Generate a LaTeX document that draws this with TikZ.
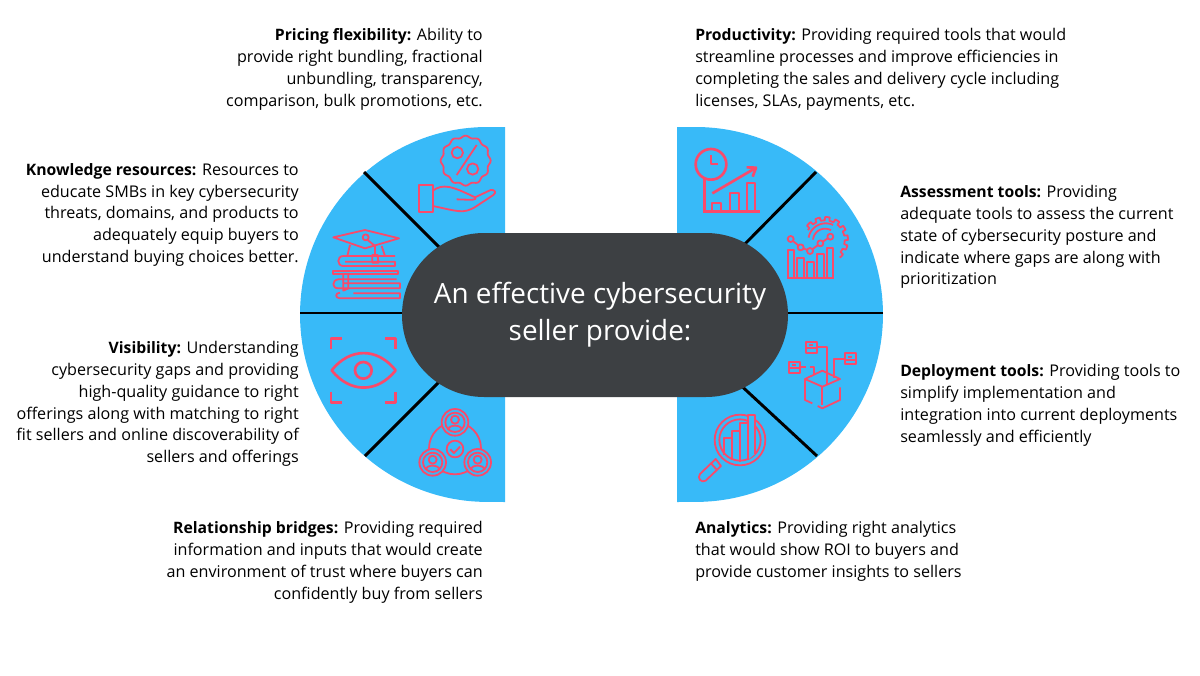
\documentclass[tikz,border=0pt]{standalone}
\usepackage{fontspec}
\setmainfont{Open Sans}
\usepackage{tikz}
\definecolor{discblue}{HTML}{38BAF8}
\definecolor{hubgrey}{HTML}{3D4043}
\definecolor{iconred}{HTML}{F94A6B}
\tikzset{
  disc/.style={fill=discblue,draw=none},
  divider/.style={draw=black,line width=2.2pt},
  hub/.style={fill=hubgrey,rounded corners=61.5pt,minimum width=289.5pt,minimum height=123pt},
  hubtext/.style={text=white,align=center,font=\fontsize{20.9}{27.8}\selectfont},
  leftnote/.style={anchor=north east,align=right,inner sep=0pt,font=\fontsize{12.1}{16.4}\selectfont},
  rightnote/.style={anchor=north west,align=left,inner sep=0pt,font=\fontsize{12.1}{16.4}\selectfont},
  icon/.style={draw=iconred,line width=1.35pt,line join=round},
  iconthick/.style={draw=iconred,line width=2pt,line join=round},
  iconbox/.style={x=.25pt,y=-.25pt},
}
\newcommand{\lead}[1]{{\fontsize{11.8}{16.4}\selectfont\textbf{#1}}}
\begin{document}
\begin{tikzpicture}[x=.75pt,y=-.75pt]
  \useasboundingbox (0,0) rectangle (1200,675);
  \path[disc] (505,127) -- (487.5,127) arc[start angle=90,end angle=270,radius=140.6pt] -- (505,502) -- cycle;
  \path[disc] (677,127) -- (695.5,127) arc[start angle=90,end angle=-90,radius=140.6pt] -- (677,502) -- cycle;

  \coordinate (la1) at (364,172);
  \coordinate (la2) at (445,253);
  \coordinate (lb1) at (300,313);
  \coordinate (lb2) at (410,313);
  \coordinate (lc1) at (365,456);
  \coordinate (lc2) at (445,376);
  \coordinate (ra1) at (816,172);
  \coordinate (ra2) at (738,251);
  \coordinate (rb1) at (883,313);
  \coordinate (rb2) at (775,313);
  \coordinate (rc1) at (817,456);
  \coordinate (rc2) at (735,380);
  \path[divider]
  (la1) edge (la2)
  (lb1) edge (lb2)
  (lc1) edge (lc2)
  (ra1) edge (ra2)
  (rb1) edge (rb2)
  (rc1) edge (rc2)
  ;

  \node[hub] (centre) at (595,315) {};
  \node[hubtext] (centretext) at (600,315) {An effective cybersecurity\\seller provide:};

  \node[leftnote] (pricing) at (483,28) {\lead{Pricing flexibility:} Ability to\\provide right bundling, fractional\\unbundling, transparency,\\comparison, bulk promotions, etc.};
  \node[leftnote] (knowledge) at (299,163) {\lead{Knowledge resources:} Resources to\\educate SMBs in key cybersecurity\\threats, domains, and products to\\adequately equip buyers to\\understand buying choices better.};
  \node[leftnote] (visibility) at (299,341) {\lead{Visibility:} Understanding\\cybersecurity gaps and providing\\high-quality guidance to right\\offerings along with matching to right\\fit sellers and online discoverability of\\sellers and offerings};
  \node[leftnote] (bridges) at (483,521) {\lead{Relationship bridges:} Providing required\\information and inputs that would create\\an environment of trust where buyers can\\confidently buy from sellers};
  \node[rightnote] (productivity) at (695,28) {\lead{Productivity:} Providing required tools that would\\streamline processes and improve efficiencies in\\completing the sales and delivery cycle including\\licenses, SLAs, payments, etc.};
  \node[rightnote] (assessment) at (900,185) {\lead{Assessment tools:} Providing\\adequate tools to assess the current\\state of cybersecurity posture and\\indicate where gaps are along with\\prioritization};
  \node[rightnote] (deployment) at (900,364) {\lead{Deployment tools:} Providing tools to\\simplify implementation and\\integration into current deployments\\seamlessly and efficiently};
  \node[rightnote] (analytics) at (695,521) {\lead{Analytics:} Providing right analytics\\that would show ROI to buyers and\\provide customer insights to sellers};

  % pricing icon
  \begin{scope}[shift={(300,120)},iconbox]
    \draw[icon] plot[domain=0:360,samples=145,smooth] ({497+(72+3*cos(12*\x))*cos(\x)},{122-(72+3*cos(12*\x))*sin(\x)});
    \draw[icon] (530,75) -- (470,165);
    \draw[icon] (472,98) circle[radius=17];
    \draw[icon] (518,147) circle[radius=17];
    \draw[icon] (358,195) rectangle (398,275);
    \draw[icon] (398,212) .. controls (430,190) and (455,198) .. (525,232) .. controls (530,240) and (525,240) .. (470,238);
    \draw[icon] (525,232) -- (572,210) .. controls (585,208) and (590,218) .. (580,225) -- (530,258) .. controls (490,285) and (470,272) .. (398,258);
  \end{scope}
  % knowledge icon
  \begin{scope}[shift={(300,120)},iconbox]
    \draw[icon] (100,352) -- (195,330) -- (297,355) -- (195,385) -- cycle;
    \draw[icon] (150,375) -- (142,408) (245,378) -- (255,408);
    \draw[icon] (197,352) circle[radius=9] (203,360) -- (225,378) -- (225,405);
    \draw[icon] (217,405) -- (233,405) -- (235,428) -- (217,428) -- cycle;
    \draw[icon] (285,408) -- (130,408) .. controls (110,408) and (110,438) .. (130,438) -- (285,438) -- (285,425) -- (135,425);
    \draw[icon] (110,452) -- (295,452) -- (295,462) -- (100,462) -- (100,452) -- (110,452);
    \draw[icon] (290,478) -- (115,478) .. controls (95,480) and (95,505) .. (115,505) -- (300,505) -- (300,490) -- (130,490);
    \draw[icon] (130,462) -- (130,512) -- (145,505) -- (145,462);
    \draw[icon] (160,520) -- (300,520) -- (300,535) -- (120,535) .. controls (105,535) and (105,518) .. (120,518);
  \end{scope}
  % visibility icon
  \begin{scope}[shift={(300,310)},iconbox]
    \draw[iconthick] (93,118) -- (93,85) -- (127,85);
    \draw[iconthick] (255,85) -- (287,85) -- (287,118);
    \draw[iconthick] (93,245) -- (93,277) -- (127,277);
    \draw[iconthick] (255,277) -- (287,277) -- (287,245);
    \draw[iconthick] (95,181) .. controls (150,112) and (232,112) .. (287,181) .. controls (232,250) and (150,250) .. cycle;
    \draw[iconthick] (190,181) circle[radius=25];
  \end{scope}
  % bridges icon
  \begin{scope}[shift={(300,310)},iconbox]
    \draw[icon] (465,415) circle[radius=78];
    \foreach \px/\py in {465/337,398/457,533/457}{
      \draw[icon,fill=discblue] (\px,\py) circle[radius=40];
      \draw[icon] (\px,\py) circle[radius=29];
      \draw[icon] (\px,\py-8) circle[radius=12];
      \draw[icon] (\px-20,\py+22) .. controls (\px-20,\py+6) and (\px+20,\py+6) .. (\px+20,\py+22);
    }
    \draw[icon] (465,417) circle[radius=25];
    \draw[icon] (451,418) -- (462,429) -- (480,410);
  \end{scope}
  % productivity icon
  \begin{scope}[shift={(675,120)},iconbox]
    \draw[iconthick] (108,133) circle[radius=46];
    \draw[icon] (108,105) -- (108,133) -- (130,133);
    \draw[iconthick] (88,175) -- (88,275);
    \draw[iconthick] (85,275) -- (255,275);
    \draw[icon] (112,275) -- (112,248) -- (138,248) -- (138,275);
    \draw[icon] (165,275) -- (165,218) -- (192,218) -- (192,275);
    \draw[icon] (215,275) -- (215,190) -- (240,190) -- (240,275);
    \draw[iconthick] (112,220) -- (240,145);
    \draw[iconthick] (215,142) -- (243,143) -- (233,170);
  \end{scope}
  % assessment icon
  \begin{scope}[shift={(675,120)},iconbox]
    \draw[icon] plot[domain=-50:150,samples=160] ({450+(64+5*sign(sin(14*\x)))*cos(\x)},{360-(64+5*sign(sin(14*\x)))*sin(\x)});
    \draw[icon] plot[domain=60:175,samples=30] ({450+36*cos(\x)},{362-36*sin(\x)});
    \draw[icon] plot[domain=65:170,samples=30] ({452+52*cos(\x)},{362-52*sin(\x)});
    \draw[icon] (340,473) -- (340,390) -- (358,390) -- (358,473);
    \draw[icon] (367,473) -- (367,413) -- (388,413) -- (388,473);
    \draw[icon] (396,473) -- (396,425) -- (416,425) -- (416,473);
    \draw[icon] (425,473) -- (425,402) -- (447,402) -- (447,473);
    \draw[icon] (455,473) -- (455,385) -- (475,385) -- (475,473);
    \draw[icon] (336,473) -- (478,473);
    \draw[icon] (347,357) -- (377,382) -- (405,393) -- (436,370) -- (466,350);
    \foreach \px/\py in {347/357,377/382,405/393,436/370,466/350}{
      \draw[icon,fill=discblue] (\px,\py) circle[radius=9];
    }
  \end{scope}
  % deployment icon
  \begin{scope}[shift={(675,310)},iconbox]
    \foreach \px/\py in {393/95,510/130,342/155}{
      \draw[icon] (\px,\py) rectangle (\px+34,\py+33);
      \draw[icon] (\px,\py+20) -- (\px+34,\py+20);
      \draw[icon] (\px+9,\py+10) -- (\px+22,\py+10);
    }
    \draw[icon] (427,110) -- (455,110) -- (455,225);
    \draw[icon] (510,147) -- (478,147) -- (478,205);
    \draw[icon] (376,172) -- (392,172) (404,172) -- (418,172) -- (418,195);
    \draw[icon] (390,207) -- (442,182) -- (495,207) -- (442,230) -- cycle;
    \draw[icon] (442,230) -- (442,285);
    \draw[icon] (390,207) -- (390,270) -- (412,280) (428,288) -- (442,295) -- (495,270) -- (495,232);
  \end{scope}
  % analytics icon
  \begin{scope}[shift={(675,310)},iconbox]
    \draw[icon] (195,390) circle[radius=76];
    \draw[icon] (195,390) circle[radius=62];
    \draw[icon,fill=discblue] (218,450) -- (218,315) -- (240,315) -- (240,432);
    \draw[icon] (195,455) -- (195,338) -- (218,338);
    \draw[icon] (172,450) -- (172,362) -- (195,362);
    \draw[icon] (148,435) -- (148,385) -- (172,385);
    \draw[icon] (122,447) -- (75,492) .. controls (65,505) and (80,520) .. (92,512) -- (138,468) -- cycle;
    \draw[icon] (108,460) -- (126,480);
  \end{scope}
\end{tikzpicture}
\end{document}
